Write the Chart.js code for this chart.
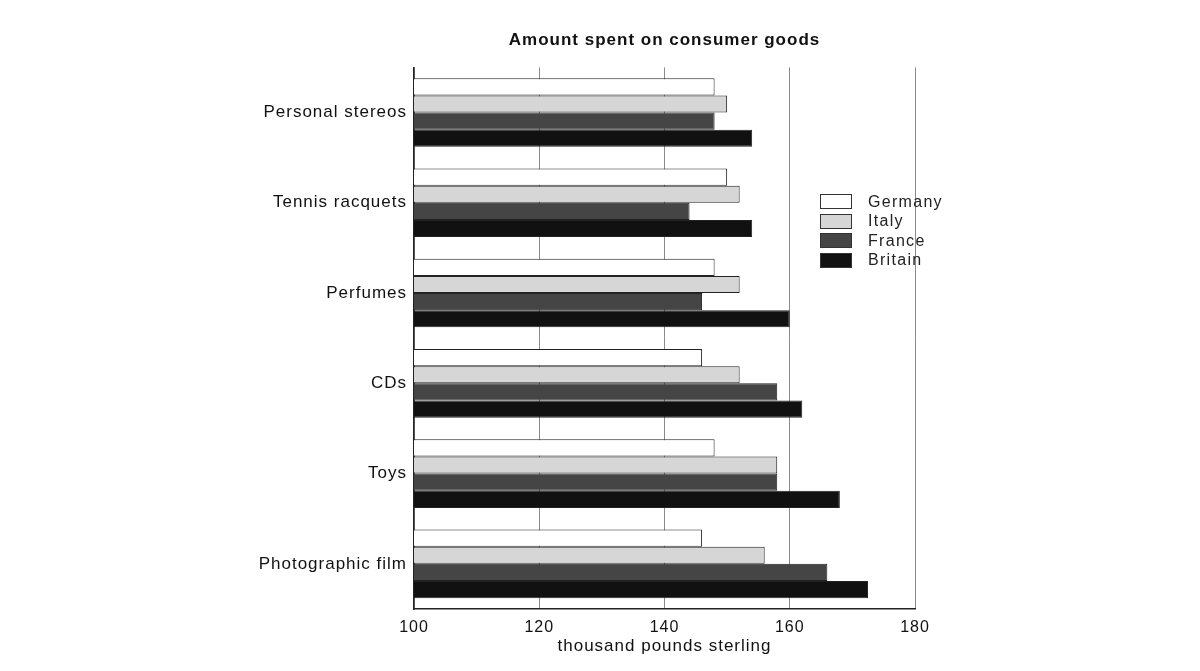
<!DOCTYPE html>
<html lang="en">
<head>
  <meta charset="UTF-8" />
  <title>Amount spent on consumer goods</title>
  <script src="https://cdn.jsdelivr.net/npm/chart.js"></script>
  <style>
    html, body {
      margin: 0;
      padding: 0;
      background: #fff;
      font-family: "Liberation Sans", Arial, sans-serif;
    }

    #chart-container {
      position: relative;
      width: 1200px;
      height: 671px;
    }

    #legend {
      position: absolute;
      left: 820px;
      top: 192px;
      font-size: 16px;
      letter-spacing: 1.3px;
      color: #222;
    }

    .legend-row {
      display: flex;
      align-items: center;
      height: 19.5px;
    }

    .legend-box {
      width: 32px;
      height: 15px;
      border: 1px solid #333;
      margin-right: 16px;
      box-sizing: border-box;
    }
  </style>
</head>
<body>
  <div id="chart-container">
    <canvas id="myChart" width="1200" height="671"></canvas>
    <div id="legend"></div>
  </div>

  <script>
    const categories = ['Personal stereos', 'Tennis racquets', 'Perfumes', 'CDs', 'Toys', 'Photographic film'];
    const seriesNames = ['Germany', 'Italy', 'France', 'Britain'];
    const germany = [148, 150, 148, 146, 148, 146];
    const italy = [150, 152, 152, 152, 158, 156];
    const france = [148, 144, 146, 158, 158, 166];
    const britain = [154, 154, 160, 162, 168, 172.5];
    const xTicks = [100, 120, 140, 160, 180];

    const fills = ['#ffffff', '#d6d6d6', '#454545', '#111111'];
    const values = [germany, italy, france, britain];

    const datasets = seriesNames.map((name, i) => ({
      label: name,
      data: values[i],
      backgroundColor: fills[i],
      borderColor: '#222',
      borderWidth: 1,
      borderSkipped: false,
      barPercentage: 1.0,
      categoryPercentage: 0.76
    }));

    // legend sits inside the plot area, so build it by hand
    const legend = document.getElementById('legend');
    seriesNames.forEach((name, i) => {
      const row = document.createElement('div');
      row.className = 'legend-row';
      row.innerHTML = `<span class="legend-box" style="background:${fills[i]}"></span>${name}`;
      legend.appendChild(row);
    });

    const font = '"Liberation Sans", Arial, sans-serif';

    // the scanned original has wide-set lettering
    const wideText = {
      id: 'wideText',
      beforeDraw: chart => { chart.ctx.letterSpacing = '1px'; }
    };

    new Chart(document.getElementById('myChart').getContext('2d'), {
      type: 'bar',
      data: { labels: categories, datasets: datasets },
      plugins: [wideText],
      options: {
        indexAxis: 'y',
        responsive: false,
        animation: false,
        layout: { padding: { left: 0, right: 285, top: 0, bottom: 0 } },
        plugins: {
          legend: { display: false },
          tooltip: { enabled: false },
          title: {
            display: true,
            text: 'Amount spent on consumer goods',
            fullSize: false,
            color: '#111',
            font: { family: font, size: 17, weight: 'bold' },
            padding: { top: 30, bottom: 17 }
          }
        },
        scales: {
          x: {
            min: xTicks[0],
            max: xTicks[xTicks.length - 1],
            afterBuildTicks: axis => { axis.ticks = xTicks.map(v => ({ value: v })); },
            afterFit: axis => { axis.height = 62; },
            grid: {
              drawTicks: false,
              color: '#8a8a8a',
              lineWidth: 1
            },
            border: { display: true, color: '#222', width: 1.5 },
            ticks: {
              color: '#111',
              padding: 9,
              font: { family: font, size: 16 }
            },
            title: {
              display: true,
              text: 'thousand pounds sterling',
              color: '#111',
              font: { family: font, size: 17 },
              padding: { top: 2, bottom: 14 }
            }
          },
          y: {
            afterFit: axis => { axis.width = 414; },
            grid: { display: false, drawTicks: false },
            border: { display: true, color: '#222', width: 1.5 },
            ticks: {
              color: '#111',
              padding: 7,
              font: { family: font, size: 17 }
            }
          }
        }
      }
    });
  </script>
</body>
</html>
